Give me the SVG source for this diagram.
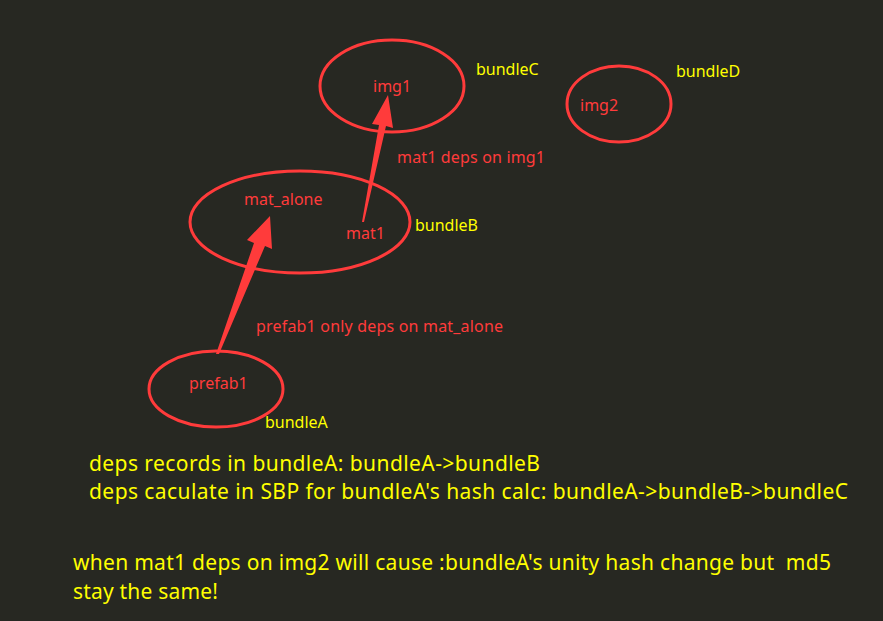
<svg xmlns="http://www.w3.org/2000/svg" width="883" height="621" viewBox="0 0 883 621">
<style>
.e{fill:none;stroke:#ff3b3b;stroke-width:3}
.r{fill:#ff3b3b;font-family:"Noto Sans",sans-serif;font-size:16px}
.y{fill:#ffff00;font-family:"Noto Sans",sans-serif;font-size:16px}
.b{fill:#ffff00;font-family:"Noto Sans",sans-serif;font-size:21px}
.a{fill:#ff3b3b}
</style>
<rect width="883" height="621" fill="#272822"/>
<g id="bundleC"><ellipse class="e" cx="392" cy="86" rx="72" ry="46"/><text class="r" x="373" y="92">img1</text><text class="y" x="476" y="75">bundleC</text></g>
<g id="bundleD"><ellipse class="e" cx="619" cy="104" rx="52" ry="38"/><text class="r" x="580" y="111">img2</text><text class="y" x="676" y="77">bundleD</text></g>
<g id="bundleB"><ellipse class="e" cx="300" cy="222" rx="110" ry="51"/><text class="r" x="244" y="205">mat_alone</text><text class="r" x="346" y="239">mat1</text><text class="y" x="415" y="231">bundleB</text></g>
<g id="bundleA"><ellipse class="e" cx="216" cy="389" rx="67" ry="38"/><text class="r" x="189" y="389">prefab1</text><text class="y" x="265" y="428">bundleA</text></g>
<g id="connectors">
<polygon class="a" points="362,222 364,222 386,126 393,128 388,95 372,124 379,125"/>
<polygon class="a" points="216,354 219,354 265,246 272,249 270,216 247,240 254,243"/>
</g>
<text class="r" x="397" y="163" textLength="148">mat1 deps on img1</text>
<text class="r" x="256" y="332" textLength="247">prefab1 only deps on mat_alone</text>
<text class="b" x="89" y="471" textLength="451">deps records in bundleA: bundleA-&gt;bundleB</text>
<text class="b" x="89" y="499" textLength="759">deps caculate in SBP for bundleA's hash calc: bundleA-&gt;bundleB-&gt;bundleC</text>
<text class="b" x="73" y="570" textLength="758" xml:space="preserve">when mat1 deps on img2 will cause :bundleA's unity hash change but  md5</text>
<text class="b" x="73" y="599" textLength="145">stay the same!</text>
</svg>
